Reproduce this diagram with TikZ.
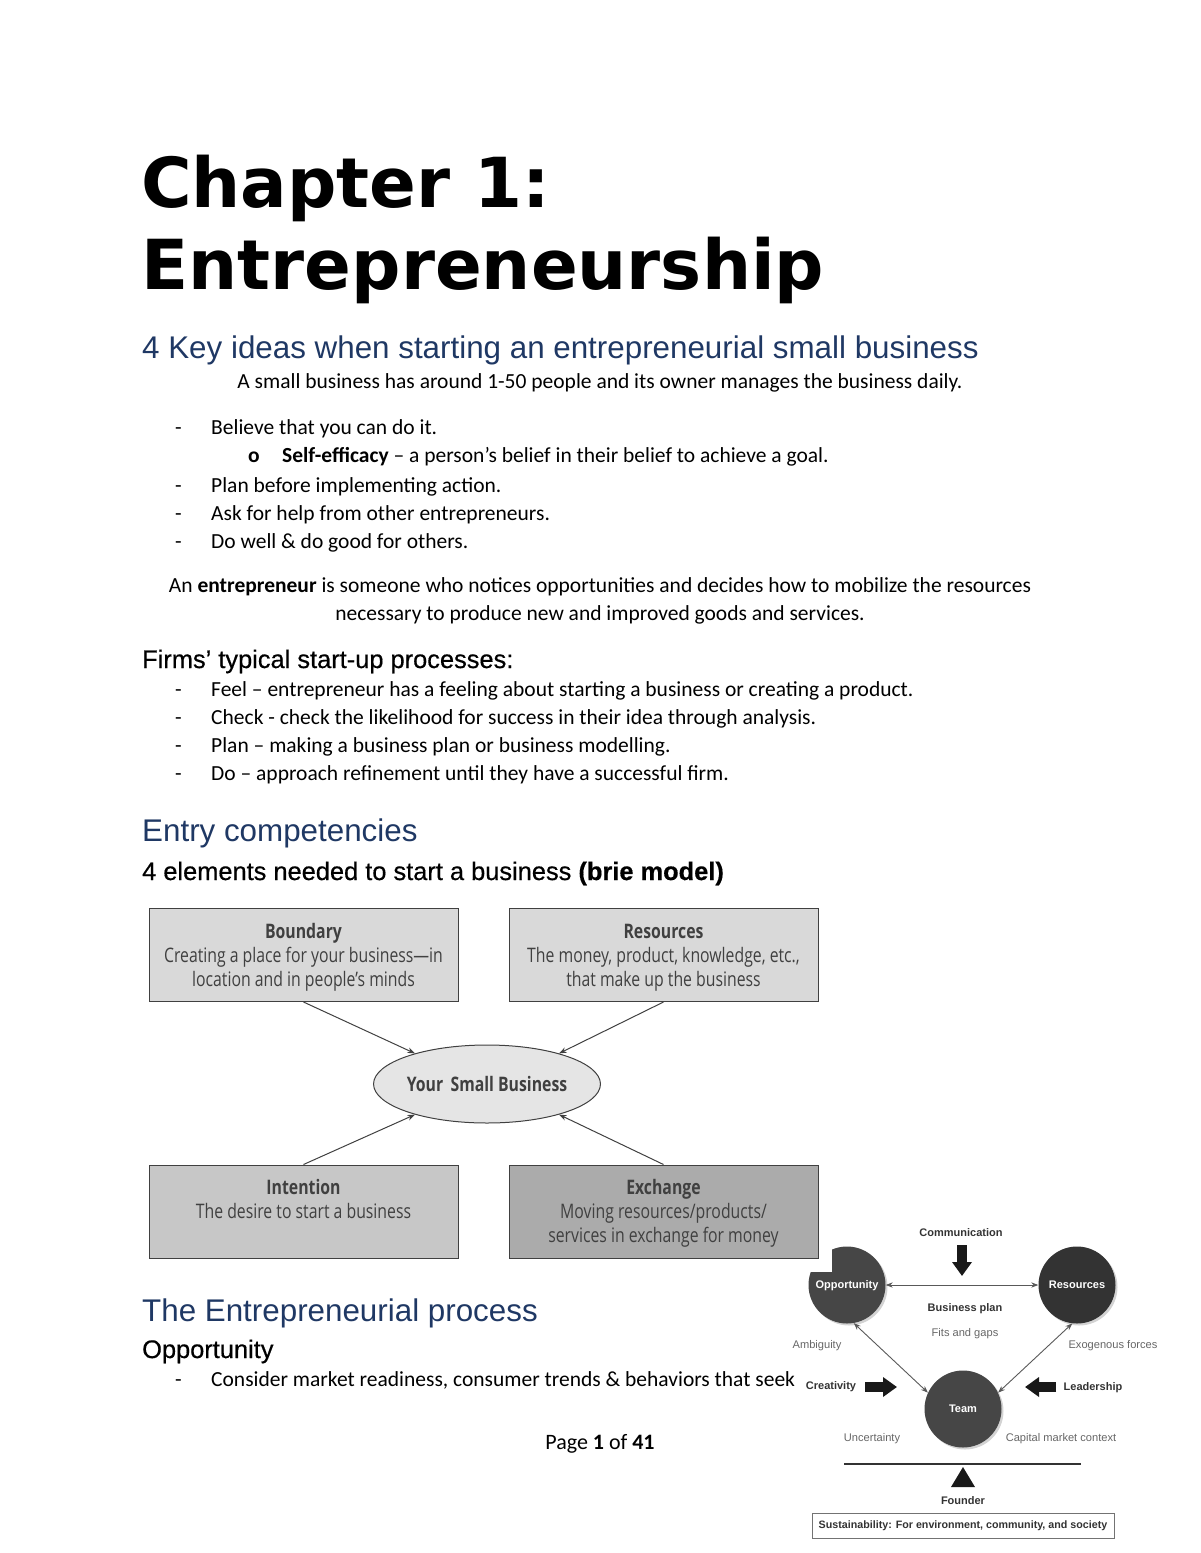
\documentclass[tikz,border=0pt]{standalone}
\usepackage{fontspec}
\setmainfont{Carlito}
\newfontfamily\titlefont{DejaVu Sans}
\newfontfamily\headfont{Liberation Sans}
\newfontfamily\subheadfont[FakeBold=.5]{Liberation Sans}
\newfontfamily\briefont[FakeStretch=.79]{Open Sans}
\usetikzlibrary{arrows.meta,shapes.geometric,shadows}
\definecolor{headblue}{HTML}{1F3864}
\definecolor{discgrey}{HTML}{464646}
\newcommand{\px}[2]{\fontsize{#1}{#2}\selectfont}
\newcommand{\brietop}{\rule{0pt}{19pt}}
\newcommand{\briebot}{\rule[-5pt]{0pt}{5pt}}

\begin{document}
\begin{tikzpicture}
    [ x=1pt, y=-1pt, >=Stealth,
      titletext/.style={anchor=base west, inner sep=0pt, font=\titlefont\bfseries\px{69}{80}},
      headtext/.style={anchor=base west, inner sep=0pt, text=headblue, font=\headfont\px{31.35}{36}},
      subhead/.style={anchor=base west, inner sep=0pt, font=\subheadfont\px{25.4}{30}},
      bodytext/.style={anchor=base west, inner sep=0pt, font=\px{21.5}{24}},
      centertext/.style={bodytext, anchor=base},
      briebox/.style={draw=black!75, line width=1pt, minimum width=309pt, minimum height=93pt,
          align=center, text=black!75, font=\briefont\px{20}{24}},
      disc/.style={circle, fill=discgrey, minimum size=77pt, inner sep=0pt, text=white,
          text height=8pt, text depth=2pt, font=\headfont\bfseries\px{11}{13},
          drop shadow={shadow xshift=2pt, shadow yshift=-2pt, opacity=.35}},
      smalllabel/.style={inner sep=0pt, text=black!60, font=\headfont\px{11.1}{13}},
      boldlabel/.style={inner sep=0pt, text=black!80, font=\headfont\bfseries\px{11}{13}},
      blockarrow/.style={line width=10pt, black!90, -{Triangle[length=14pt,width=19pt]}},
      thinarrow/.style={<->, black!65, line width=.9pt},
      brielink/.style={->, black!75, line width=1pt},
    ]
    \useasboundingbox (0,0) rectangle (1200,1553);

    \node[titletext] (title1) at (141,207) {Chapter 1:};
    \node[titletext] (title2) at (141.5,289) {Entrepreneurship};

    \node[headtext] (keyideas) at (142,358) {4 Key ideas when starting an entrepreneurial small business};
    \node[centertext] (smallbiz) at (600,388) {A small business has around 1-50 people and its owner manages the business daily.};

    \foreach \yy / \nm / \txt in {
        434/believe/{Believe that you can do it.},
        492/plan/{Plan before implementing action.},
        520/ask/{Ask for help from other entrepreneurs.},
        548/dowell/{Do well \& do good for others.},
        696/feel/{Feel -- entrepreneur has a feeling about starting a business or creating a product.},
        724/check/{Check - check the likelihood for success in their idea through analysis.},
        752/planb/{Plan -- making a business plan or business modelling.},
        780/doit/{Do -- approach refinement until they have a successful firm.},
        1386/consider/{Consider market readiness, consumer trends \& behaviors that seek}} {
        \node[bodytext] (dash\nm) at (175,\yy) {-};
        \node[bodytext] (\nm) at (211,\yy) {\txt};
    }
    \node[bodytext] (bullet) at (248,462) {\textbf{o}};
    \node[bodytext] (selfeff) at (282,462) {\textbf{Self-efficacy} -- a person’s belief in their belief to achieve a goal.};

    \node[centertext] (entre1) at (600,592) {An \textbf{entrepreneur} is someone who notices opportunities and decides how to mobilize the resources};
    \node[centertext] (entre2) at (600,620) {necessary to produce new and improved goods and services.};

    \node[subhead] (firms) at (142,668) {Firms’ typical start-up processes:};
    \node[headtext] (entry) at (142,841) {Entry competencies};
    \node[subhead] (elements) at (142,880) {4 elements needed to start a business \textbf{(brie model)}};

    \node[headtext] (process) at (142,1321) {The Entrepreneurial process};
    \node[subhead] (opportunity) at (142,1358) {Opportunity};
    \node[centertext, font=\px{22}{24}] (pageno) at (600,1449) {Page \textbf{1} of \textbf{41}};

    % timmons model
    \node[disc] (oppdisc) at (847,1285) {Opportunity};
    \node[disc, fill=black!80] (resdisc) at (1077,1285) {Resources};
    \node[disc] (teamdisc) at (963,1409) {Team};
    \fill[white] (804,1244) rectangle (832,1272);

    \draw[thinarrow] (oppdisc) -- (resdisc);
    \draw[thinarrow] (oppdisc.-80) -- (teamdisc.155);
    \draw[thinarrow] (resdisc.-97) -- (teamdisc.25);

    \node[boldlabel] (communication) at (961,1233) {Communication};
    \node[boldlabel] (bizplan) at (965,1309) {Business plan};
    \node[smalllabel] (fits) at (965,1334) {Fits and gaps};
    \node[smalllabel] (ambiguity) at (817,1346) {Ambiguity};
    \node[smalllabel] (exogenous) at (1113,1346) {Exogenous forces};
    \node[boldlabel] (creativity) at (831,1387) {Creativity};
    \node[boldlabel] (leadership) at (1093,1388) {Leadership};
    \node[smalllabel] (uncertainty) at (872,1439) {Uncertainty};
    \node[smalllabel] (capital) at (1061,1439) {Capital market context};
    \node[boldlabel] (founder) at (963,1501) {Founder};

    \coordinate (C0) at (962,1245);
    \coordinate (C1) at (962,1276);
    \coordinate (L0) at (865,1387);
    \coordinate (L1) at (897,1387);
    \coordinate (R0) at (1056,1387);
    \coordinate (R1) at (1025,1387);
    \draw[blockarrow] (C0) -- (C1);
    \draw[blockarrow] (L0) -- (L1);
    \draw[blockarrow] (R0) -- (R1);

    \coordinate (B0) at (844,1464);
    \coordinate (B1) at (1081,1464);
    \draw[line width=2pt, black!80] (B0) -- (B1);
    \fill[black!90] (963,1467) -- (975,1487) -- (951,1487) -- cycle;

    \node[draw=black!55, line width=.8pt, fill=white, minimum width=302pt, minimum height=25pt, inner sep=0pt,
          text=black!80, font=\headfont\bfseries\px{10.7}{13}] (sustain) at (963,1525.5)
          {Sustainability: For environment, community, and society};

    % brie model
    \node[briebox, fill=black!15] (boundary) at (303.5,955) {\brietop\textbf{Boundary}\\Creating a place for your business—in\\location and in people’s minds\briebot};
    \node[briebox, fill=black!15] (resources) at (663.5,955) {\brietop\textbf{Resources}\\The money, product, knowledge, etc.,\\that make up the business\briebot};
    \node[briebox, fill=black!22] (intention) at (303.5,1211.5) {\brietop\textbf{Intention}\\The desire to start a business\\\briebot};
    \node[briebox, fill=black!33] (exchange) at (663.5,1211.5) {\brietop\textbf{Exchange}\\Moving resources/products/\\services in exchange for money\briebot};
    \node[ellipse, draw=black!75, line width=1pt, fill=black!10, minimum width=225pt, minimum height=78pt,
          inner sep=0pt, text=black!75, font=\briefont\bfseries\px{20}{22}] (yourbiz) at (487,1084) {Your\, Small Business};

    \draw[brielink] (boundary.south) -- (yourbiz.157);
    \draw[brielink] (resources.south) -- (yourbiz.23);
    \draw[brielink] (intention.north) -- (yourbiz.203);
    \draw[brielink] (exchange.north) -- (yourbiz.-23);
\end{tikzpicture}
\end{document}
